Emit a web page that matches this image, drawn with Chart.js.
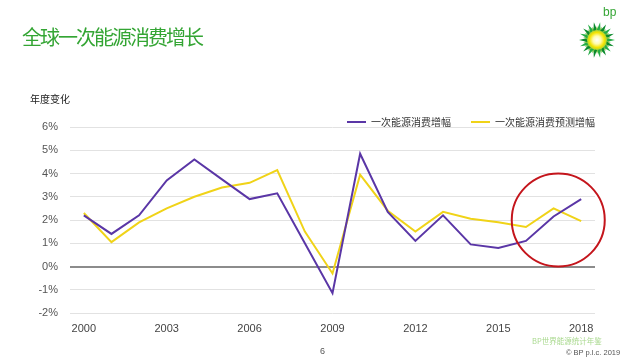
<!DOCTYPE html>
<html>
<head>
<meta charset="utf-8">
<script src="https://cdn.jsdelivr.net/npm/chart.js@4.4.1/dist/chart.umd.min.js"></script>
<style>
  body { margin: 0; background: #fff; font-family: 'Liberation Sans', 'Noto Sans CJK SC', sans-serif; }
  #page { position: relative; width: 640px; height: 360px; overflow: hidden; }
  #wrap { position: absolute; left: 0; top: 0; width: 640px; height: 360px; }
  .txt { position: absolute; white-space: nowrap; line-height: 1; }
  #title { left: 22px; top: 27px; font-size: 20px; letter-spacing: -2px; color: #34a534; font-family: 'Noto Sans CJK SC', sans-serif; }
  #unit { left: 30px; top: 94px; font-size: 10px; color: #222; font-family: 'Noto Sans CJK SC', sans-serif; }
  #src { left: 532px; top: 337px; font-size: 7.5px; color: #a9d98e; font-family: 'Noto Sans CJK SC', sans-serif; }
  #copy { left: 566px; top: 349px; font-size: 7.5px; color: #555; }
  #pnum { left: 320px; top: 347px; font-size: 9px; color: #555; }
  #bp { left: 603px; top: 6px; font-size: 12px; color: #34a534; }
  #logo { position: absolute; left: 577px; top: 20px; }
</style>
</head>
<body>
<div id="page">
  <div id="wrap"><canvas id="chart"></canvas></div>
  <div class="txt" id="title">全球一次能源消费增长</div>
  <div class="txt" id="unit">年度变化</div>
  <div class="txt" id="src">BP世界能源统计年鉴</div>
  <div class="txt" id="copy">© BP p.l.c. 2019</div>
  <div class="txt" id="pnum">6</div>
  <div class="txt" id="bp">bp</div>
  <svg id="logo" width="40" height="40" viewBox="-20 -20 40 40"></svg>
</div>
<script>
// data (%)
const years = ['2000', '2001', '2002', '2003', '2004', '2005', '2006', '2007', '2008', '2009',
               '2010', '2011', '2012', '2013', '2014', '2015', '2016', '2017', '2018'];
const actualGrowth = [2.2, 1.4, 2.2, 3.7, 4.6, 3.75, 2.9, 3.15, 1.0, -1.15,
                      4.85, 2.35, 1.1, 2.2, 0.95, 0.8, 1.1, 2.15, 2.9];
const forecastGrowth = [2.3, 1.05, 1.9, 2.5, 3.0, 3.4, 3.6, 4.15, 1.5, -0.3,
                        3.95, 2.4, 1.5, 2.35, 2.05, 1.9, 1.7, 2.5, 1.95];
const seriesNames = ['一次能源消费增幅', '一次能源消费预测增幅'];
const yTicks = [-2, -1, 0, 1, 2, 3, 4, 5, 6];

// bp helios logo
(function () {
  const svg = document.getElementById('logo');
  const pt = (r, t) => (r * Math.cos(t)).toFixed(2) + ',' + (r * Math.sin(t)).toFixed(2);
  let s = '<defs><radialGradient id="g"><stop offset="0" stop-color="#fff"/>' +
          '<stop offset="0.4" stop-color="#fffbb0"/><stop offset="0.75" stop-color="#f5e400"/>' +
          '<stop offset="1" stop-color="#a8d13a"/></radialGradient></defs>';
  for (let i = 0; i < 18; i++) {
    const a = i * Math.PI / 9, h = Math.PI / 13;
    s += '<polygon points="' + [pt(18, a), pt(9, a - h), pt(9, a + h)].join(' ') +
         '" fill="' + (i % 2 ? '#0b8a2c' : '#25ad45') + '"/>';
    const b = a + Math.PI / 18;
    s += '<polygon points="' + [pt(14, b), pt(8, b - h), pt(8, b + h)].join(' ') + '" fill="#7dc242"/>';
  }
  s += '<circle r="10" fill="url(#g)"/>';
  svg.innerHTML = s;
})();

// red circle highlighting recent years
const highlight = { x: 17.17, y: 2.0, r: 2.0 };
const circlePlugin = {
  id: 'circle',
  afterLayout(chart) {
    // push legend flush with the right end of the grid
    const shift = chart.options.plugins.legend.labels.padding;
    chart.legend.left += shift;
    chart.legend.right += shift;
  },
  afterDatasetsDraw(chart) {
    const xs = chart.scales.x, ys = chart.scales.y;
    const step = xs.getPixelForValue(1) - xs.getPixelForValue(0);
    const cx = xs.getPixelForValue(0) + highlight.x * step;
    const cy = ys.getPixelForValue(highlight.y);
    const rad = Math.abs(ys.getPixelForValue(highlight.y + highlight.r) - cy);
    const ctx = chart.ctx;
    ctx.save();
    ctx.beginPath();
    ctx.arc(cx, cy, rad, 0, Math.PI * 2);
    ctx.strokeStyle = '#c4151c';
    ctx.lineWidth = 2;
    ctx.stroke();
    ctx.restore();
  }
};

Chart.defaults.font.family = "'Liberation Sans', 'Noto Sans CJK SC', sans-serif";

new Chart(document.getElementById('chart'), {
  type: 'line',
  data: {
    labels: years,
    datasets: [{
      label: seriesNames[0],
      data: actualGrowth,
      borderColor: '#5a36a6',
      backgroundColor: '#5a36a6',
      borderWidth: 2,
      pointRadius: 0,
      tension: 0
    }, {
      label: seriesNames[1],
      data: forecastGrowth,
      borderColor: '#f0d318',
      backgroundColor: '#f0d318',
      borderWidth: 2,
      pointRadius: 0,
      tension: 0
    }]
  },
  options: {
    responsive: true,
    maintainAspectRatio: false,
    animation: false,
    layout: { autoPadding: false, padding: { left: 0, right: 45, top: 97, bottom: 0 } },
    plugins: {
      tooltip: { enabled: false },
      legend: {
        position: 'top',
        align: 'end',
        maxHeight: 30,
        labels: {
          usePointStyle: true,
          pointStyle: 'line',
          pointStyleWidth: 19,
          padding: 20,
          color: '#333',
          font: { size: 10, family: "'Noto Sans CJK SC', sans-serif" }
        }
      }
    },
    scales: {
      x: {
        offset: true,
        grid: { display: false },
        border: { display: false },
        afterFit(axis) { axis.height = 47; },
        ticks: {
          autoSkip: false,
          maxRotation: 0,
          padding: 1,
          color: '#444',
          font: { size: 11 },
          callback(v) { return (+years[v] - 2000) % 3 === 0 ? years[v] : ''; }
        }
      },
      y: {
        min: yTicks[0],
        max: yTicks[yTicks.length - 1],
        afterFit(axis) { axis.width = 70; },
        afterBuildTicks(axis) { axis.ticks = yTicks.map(v => ({ value: v })); },
        border: { display: false },
        grid: {
          drawTicks: false,
          color: c => c.tick && c.tick.value === 0 ? '#8c8c8c' : '#e2e2e2',
          lineWidth: c => c.tick && c.tick.value === 0 ? 2 : 1
        },
        ticks: {
          padding: 12,
          color: '#555',
          font: { size: 11 },
          callback: v => v + '%'
        }
      }
    }
  },
  plugins: [circlePlugin]
});
</script>
</body>
</html>
